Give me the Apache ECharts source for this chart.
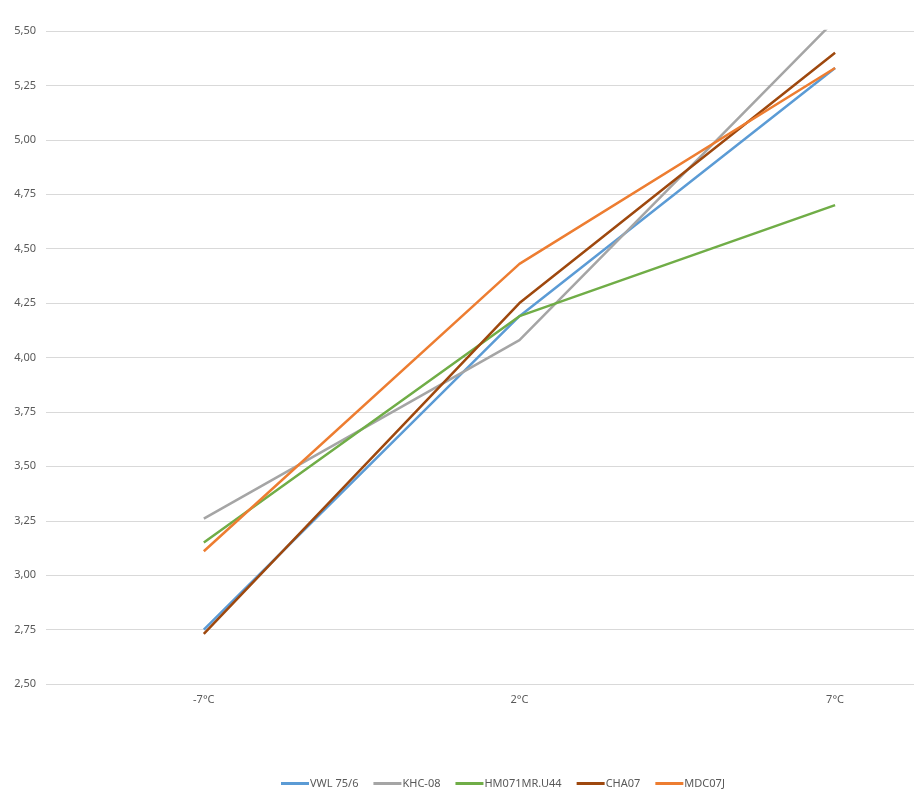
<!DOCTYPE html>
<html>
<head>
<meta charset="utf-8">
<script src="https://cdn.jsdelivr.net/npm/echarts@6/dist/echarts.min.js"></script>
<style>
  html, body { margin: 0; padding: 0; background: #fff; }
  #chart { width: 914px; height: 798px; }
</style>
</head>
<body>
<div id="chart"></div>
<script>
// categories and series values
var categories = ['-7°C', '2°C', '7°C']
var vwl756 = [2.75, 4.19, 5.33]
var khc08 = [3.26, 4.08, 5.55]
var hm071 = [3.15, 4.19, 4.70]
var cha07 = [2.73, 4.25, 5.40]
var mdc07j = [3.11, 4.43, 5.33]
var seriesNames = ['VWL 75/6', 'KHC-08', 'HM071MR.U44', 'CHA07', 'MDC07J']
var seriesColors = ['#5B9BD5', '#A5A5A5', '#70AD47', '#9E480E', '#ED7D31']

var chart = echarts.init(document.getElementById('chart'))

// the reference is cropped on the right, so the category slots are laid
// out on a value axis by index (-0.5 .. 2.25) instead of a category axis
function lineSeries(name, values, color) {
  return {
    name: name,
    type: 'line',
    data: values.map(function (v, i) { return [i, v] }),
    symbol: 'none',
    clip: true,
    lineStyle: { width: 2.5, color: color },
    itemStyle: { color: color },
    animation: false
  }
}

chart.setOption({
  textStyle: { fontFamily: 'Noto Sans' },
  grid: {
    left: 46,
    right: 0,
    top: 31,
    height: 653
  },
  legend: {
    left: 281,
    bottom: 9,
    padding: 0,
    icon: 'rect',
    itemWidth: 28,
    itemHeight: 3,
    itemGap: 15,
    textStyle: { color: '#595959', fontSize: 11, padding: [0, 0, 0, -4] },
    data: seriesNames
  },
  xAxis: {
    type: 'value',
    min: -0.5,
    max: 2.25,
    interval: 0.5,
    axisLine: { show: false },
    axisTick: { show: false },
    splitLine: { show: false },
    axisLabel: {
      color: '#595959',
      fontSize: 11,
      margin: 10,
      showMinLabel: false,
      showMaxLabel: false,
      formatter: function (v) {
        return Number.isInteger(v) && categories[v] !== undefined ? categories[v] : ''
      }
    }
  },
  yAxis: {
    type: 'value',
    min: 2.5,
    max: 5.5,
    interval: 0.25,
    axisLine: { show: false },
    axisTick: { show: false },
    splitLine: { lineStyle: { color: '#D9D9D9', width: 1 } },
    axisLabel: {
      color: '#595959',
      fontSize: 11,
      margin: 10,
      formatter: function (v) { return v.toFixed(2).replace('.', ',') }
    }
  },
  series: [
    lineSeries(seriesNames[0], vwl756, seriesColors[0]),
    lineSeries(seriesNames[1], khc08, seriesColors[1]),
    lineSeries(seriesNames[2], hm071, seriesColors[2]),
    lineSeries(seriesNames[3], cha07, seriesColors[3]),
    lineSeries(seriesNames[4], mdc07j, seriesColors[4])
  ]
})
</script>
</body>
</html>
